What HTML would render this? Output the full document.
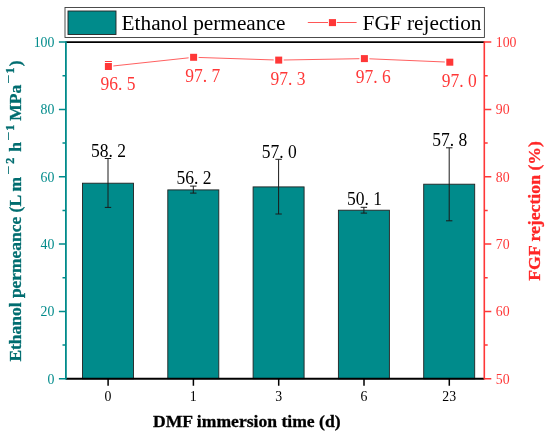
<!DOCTYPE html>
<html lang="en"><head><meta charset="utf-8"><title>Ethanol permeance and FGF rejection vs DMF immersion time</title>
<style>
html,body{margin:0;padding:0;background:#fff;}
body{width:550px;height:440px;overflow:hidden;}
svg{display:block;}
text{font-family:"Liberation Serif","Times New Roman",serif;}
.num{font-size:17.5px;}
.tick{font-size:13.8px;}
.leg{font-size:21.3px;}
.axl{font-size:17.5px;font-weight:bold;stroke-width:0.3px;}
.sup{font-size:12px;}
.mn{font-size:17px;font-weight:normal;stroke:none;}
</style></head><body>
<svg width="550" height="440" viewBox="0 0 550 440">
<rect x="0" y="0" width="550" height="440" fill="#fff"/>
<rect x="65" y="7.5" width="419.4" height="30" fill="#fff" stroke="#3a3a3a" stroke-width="0.9"/>
<rect x="68" y="11" width="48" height="23.5" fill="#008B8B" stroke="#222" stroke-width="0.9"/>
<text class="leg" x="121.6" y="29.5" fill="#000">Ethanol permeance</text>
<line x1="307.8" y1="22.5" x2="328" y2="22.5" stroke="#FF3737" stroke-width="0.85"/>
<line x1="336.8" y1="22.5" x2="356.6" y2="22.5" stroke="#FF3737" stroke-width="0.85"/>
<rect x="328.9" y="19.1" width="7.1" height="7" fill="#FF3737"/>
<text class="leg" x="362.6" y="29.5" fill="#000">FGF rejection</text>
<rect x="82.5" y="183.2" width="51.0" height="195.6" fill="#008B8B" stroke="#222" stroke-width="0.9"/>
<rect x="167.8" y="189.9" width="51.0" height="188.8" fill="#008B8B" stroke="#222" stroke-width="0.9"/>
<rect x="253.1" y="186.9" width="51.0" height="191.8" fill="#008B8B" stroke="#222" stroke-width="0.9"/>
<rect x="338.4" y="210.2" width="51.0" height="168.6" fill="#008B8B" stroke="#222" stroke-width="0.9"/>
<rect x="423.7" y="184.2" width="51.0" height="194.6" fill="#008B8B" stroke="#222" stroke-width="0.9"/>
<path d="M108.0 158.5V207.4M104.8 158.5h6.4M104.8 207.4h6.4" stroke="#1a1a1a" stroke-width="1" fill="none"/>
<path d="M193.3 186.1V193.1M190.1 186.1h6.4M190.1 193.1h6.4" stroke="#1a1a1a" stroke-width="1" fill="none"/>
<path d="M278.6 159.3V214.0M275.4 159.3h6.4M275.4 214.0h6.4" stroke="#1a1a1a" stroke-width="1" fill="none"/>
<path d="M363.9 207.3V213.1M360.7 207.3h6.4M360.7 213.1h6.4" stroke="#1a1a1a" stroke-width="1" fill="none"/>
<path d="M449.2 147.8V220.8M446.0 147.8h6.4M446.0 220.8h6.4" stroke="#1a1a1a" stroke-width="1" fill="none"/>
<text class="num" transform="translate(0 156.54) scale(1 1.05)" x="91.10 99.85 108.60 117.35" y="0" fill="#000">58.2</text>
<text class="num" transform="translate(0 184.24) scale(1 1.05)" x="176.40 185.15 193.90 202.65" y="0" fill="#000">56.2</text>
<text class="num" transform="translate(0 157.64) scale(1 1.05)" x="261.70 270.45 279.20 287.95" y="0" fill="#000">57.0</text>
<text class="num" transform="translate(0 204.74) scale(1 1.05)" x="347.00 355.75 364.50 373.25" y="0" fill="#000">50.1</text>
<text class="num" transform="translate(0 145.94) scale(1 1.05)" x="432.30 441.05 449.80 458.55" y="0" fill="#000">57.8</text>
<line x1="113.37" y1="65.96" x2="188.63" y2="57.84" stroke="#FF3737" stroke-width="0.8"/>
<line x1="198.60" y1="57.46" x2="273.70" y2="59.94" stroke="#FF3737" stroke-width="0.8"/>
<line x1="283.70" y1="60.01" x2="359.40" y2="58.69" stroke="#FF3737" stroke-width="0.8"/>
<line x1="369.40" y1="58.81" x2="444.80" y2="61.99" stroke="#FF3737" stroke-width="0.8"/>
<path d="M104.9 61.5h7" stroke="#FF3737" stroke-width="1" fill="none"/>
<rect x="104.9" y="63.0" width="7" height="7" fill="#FF3737"/>
<rect x="190.1" y="53.8" width="7" height="7" fill="#FF3737"/>
<rect x="275.2" y="56.6" width="7" height="7" fill="#FF3737"/>
<rect x="360.9" y="55.1" width="7" height="7" fill="#FF3737"/>
<rect x="446.3" y="58.7" width="7" height="7" fill="#FF3737"/>
<text class="num" transform="translate(0 89.84) scale(1 1.05)" x="100.40 109.15 117.90 126.65" y="0" fill="#FF3737">96.5</text>
<text class="num" transform="translate(0 82.24) scale(1 1.05)" x="185.30 194.05 202.80 211.55" y="0" fill="#FF3737">97.7</text>
<text class="num" transform="translate(0 85.14) scale(1 1.05)" x="270.50 279.25 288.00 296.75" y="0" fill="#FF3737">97.3</text>
<text class="num" transform="translate(0 82.64) scale(1 1.05)" x="355.80 364.55 373.30 382.05" y="0" fill="#FF3737">97.6</text>
<text class="num" transform="translate(0 86.94) scale(1 1.05)" x="441.70 450.45 459.20 467.95" y="0" fill="#FF3737">97.0</text>
<line x1="65.9" y1="42.1" x2="484.3" y2="42.1" stroke="#000" stroke-width="1.9"/>
<line x1="65.9" y1="378.75" x2="484.3" y2="378.75" stroke="#000" stroke-width="1.9"/>
<line x1="65.9" y1="41.300000000000004" x2="65.9" y2="379.55" stroke="#008B8B" stroke-width="1.8"/>
<line x1="484.3" y1="41.300000000000004" x2="484.3" y2="379.55" stroke="#FF3737" stroke-width="1.6"/>
<path d="M65.9 378.75h-7M65.9 345.08h-3.4M65.9 311.42h-7M65.9 277.75h-3.4M65.9 244.09h-7M65.9 210.43h-3.4M65.9 176.76h-7M65.9 143.10h-3.4M65.9 109.43h-7M65.9 75.76h-3.4M65.9 42.10h-7" stroke="#008B8B" stroke-width="1.5" fill="none"/>
<text class="tick" x="54.4" y="383.55" text-anchor="end" fill="#008B8B">0</text>
<text class="tick" x="54.4" y="316.22" text-anchor="end" fill="#008B8B">20</text>
<text class="tick" x="54.4" y="248.89" text-anchor="end" fill="#008B8B">40</text>
<text class="tick" x="54.4" y="181.56" text-anchor="end" fill="#008B8B">60</text>
<text class="tick" x="54.4" y="114.23" text-anchor="end" fill="#008B8B">80</text>
<text class="tick" x="54.4" y="46.90" text-anchor="end" fill="#008B8B">100</text>
<path d="M484.3 378.75h7M484.3 345.08h3.4M484.3 311.42h7M484.3 277.75h3.4M484.3 244.09h7M484.3 210.43h3.4M484.3 176.76h7M484.3 143.10h3.4M484.3 109.43h7M484.3 75.76h3.4M484.3 42.10h7" stroke="#FF3737" stroke-width="1.5" fill="none"/>
<text class="tick" x="495.8" y="383.55" fill="#FF3737">50</text>
<text class="tick" x="495.8" y="316.22" fill="#FF3737">60</text>
<text class="tick" x="495.8" y="248.89" fill="#FF3737">70</text>
<text class="tick" x="495.8" y="181.56" fill="#FF3737">80</text>
<text class="tick" x="495.8" y="114.23" fill="#FF3737">90</text>
<text class="tick" x="495.8" y="46.90" fill="#FF3737">100</text>
<path d="M108.1 378.75v7M193.4 378.75v7M278.7 378.75v7M364.0 378.75v7M449.3 378.75v7" stroke="#000" stroke-width="1.5" fill="none"/>
<text class="tick" x="108.0" y="401.1" text-anchor="middle" fill="#000">0</text>
<text class="tick" x="193.3" y="401.1" text-anchor="middle" fill="#000">1</text>
<text class="tick" x="278.6" y="401.1" text-anchor="middle" fill="#000">3</text>
<text class="tick" x="363.9" y="401.1" text-anchor="middle" fill="#000">6</text>
<text class="tick" x="449.2" y="401.1" text-anchor="middle" fill="#000">23</text>
<text class="axl" style="font-size:17.6px" x="153" y="426.7" textLength="187.6" lengthAdjust="spacingAndGlyphs" fill="#000" stroke="#000">DMF immersion time (d)</text>
<text class="axl" transform="translate(21.3 361.3) rotate(-90)" fill="#006D70" stroke="#006D70"><tspan x="-0.3" y="0" textLength="184.6" lengthAdjust="spacingAndGlyphs">Ethanol permeance (L m</tspan><tspan class="mn" x="191.10" y="-7.5" text-anchor="middle">−</tspan><tspan class="sup" x="200.55" y="-7.3" text-anchor="middle">2</tspan><tspan x="209.50" y="0">h</tspan><tspan class="mn" x="225.20" y="-7.5" text-anchor="middle">−</tspan><tspan class="sup" x="233.50" y="-7.3" text-anchor="middle">1</tspan><tspan x="240.50" y="0">MPa</tspan><tspan class="mn" x="282.00" y="-7.5" text-anchor="middle">−</tspan><tspan class="sup" x="290.85" y="-7.3" text-anchor="middle">1</tspan><tspan x="295.00" y="0">)</tspan></text>
<text class="axl" style="font-size:17.7px" transform="translate(539.8 280.7) rotate(-90)" textLength="139.6" lengthAdjust="spacingAndGlyphs" fill="#FF2626" stroke="#FF2626">FGF rejection (%)</text>
</svg></body></html>
